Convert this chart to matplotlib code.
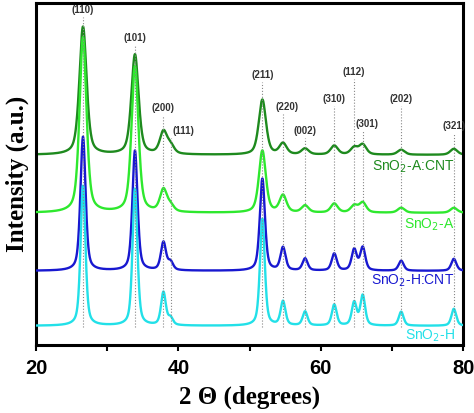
import numpy as np
import matplotlib
matplotlib.use("Agg")
import matplotlib.pyplot as plt

# peak positions (2 theta) and hkl labels
hkl = ['(110)', '(101)', '(200)', '(111)', '(211)', '(220)', '(002)', '(310)', '(112)', '(301)', '(202)', '(321)']
pos = [26.6, 33.9, 37.9, 38.9, 51.8, 54.7, 57.8, 61.9, 64.7, 65.9, 71.3, 78.7]
label_y = [335, 307, 237, 214, 270, 238, 214, 246, 273, 221, 246, 219]
label_dx = [0, 0, 0, 1.8, 0, 0.6, 0, 0, 0, 0.6, 0, 0]

names = ['SnO$_2$-A:CNT', 'SnO$_2$-A', 'SnO$_2$-H:CNT', 'SnO$_2$-H']
colours = ['#1e8a1e', '#2ee82e', '#1818d0', '#22e0e8']
baselines = [190, 132, 74, 19]
# peak heights above baseline (arbitrary units)
heights = [
    [128, 100, 22, 8, 55, 11, 6, 9, 7, 10, 5, 6],
    [175, 146, 22, 6, 62, 17, 7, 9, 7, 10, 5, 5],
    [134, 120, 28, 8, 92, 23, 12, 17, 21, 23, 10, 12],
    [140, 137, 33, 7, 107, 24, 14, 21, 23, 30, 14, 17],
]
fwhm = [1.2, 1.15, 0.85, 0.8]
name_y = [178, 120, 64, 9]

x = np.linspace(20, 80, 2400)

fig = plt.figure(figsize=(4.74, 4.13), dpi=100)
ax = fig.add_axes([0.076, 0.165, 0.901, 0.828])

for i in range(4):
    y = np.full_like(x, baselines[i], dtype=float)
    w = fwhm[i] / 2
    for c, h in zip(pos, heights[i]):
        lor = 1 / (1 + ((x - c) / w) ** 2)
        gau = np.exp(-np.log(2) * ((x - c) / w) ** 2)
        y += h * (0.5 * lor + 0.5 * gau)
    ax.plot(x, y, color=colours[i], linewidth=1.7, zorder=2 + i)
    ax.text(78.8, name_y[i], names[i], color=colours[i], fontsize=10,
            family='Liberation Sans', ha='right', va='center', zorder=10)

for p, lab, ly, dx in zip(pos, hkl, label_y, label_dx):
    ax.plot([p, p], [18, ly - 7], color='#888888', linestyle=':', linewidth=0.8, zorder=8)
    ax.text(p + dx, ly, lab, fontsize=7, fontweight='bold', color='#333333',
            family='Liberation Sans', ha='center', va='center', zorder=10)

ax.set_xlim(20, 80)
ax.set_ylim(0, 342)
ax.set_yticks([])
ax.set_xticks([20, 40, 60, 80])
ax.set_xticks([30, 50, 70], minor=True)
ax.tick_params(axis='x', which='both', direction='out', length=4, width=1.5, pad=6)
for t in ax.get_xticklabels():
    t.set_fontsize(14.5)
    t.set_fontweight('bold')
    t.set_family('Liberation Sans')
for s in ax.spines.values():
    s.set_linewidth(2.2)

ax.set_xlabel('2 \u0398 (degrees)', fontsize=18, fontweight='bold', family='Liberation Serif', labelpad=6)
ax.set_ylabel('Intensity (a.u.)', fontsize=18, fontweight='bold', family='Liberation Serif', labelpad=5)

fig.savefig('out.png', dpi=100)
